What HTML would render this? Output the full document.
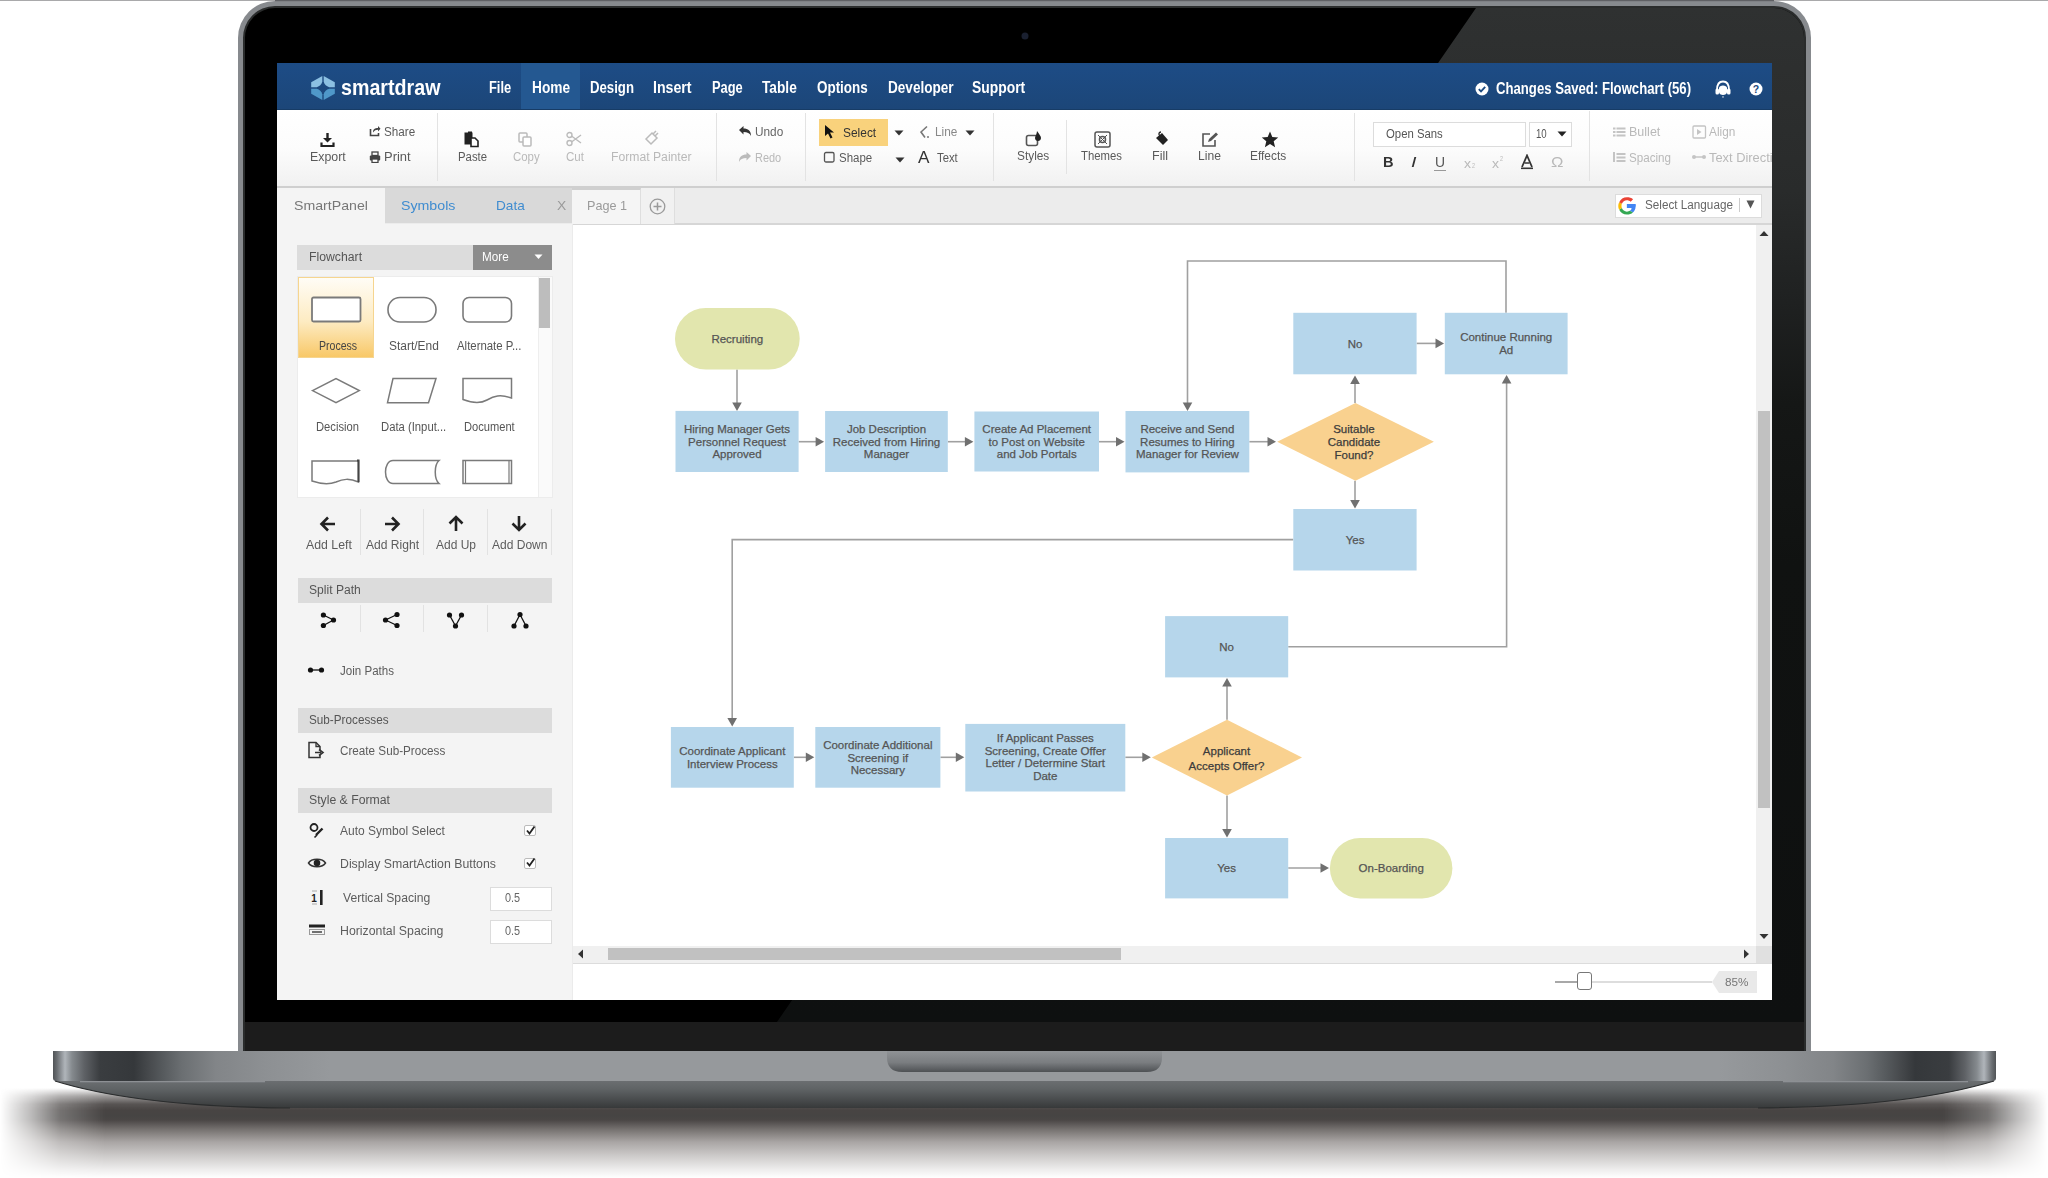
<!DOCTYPE html>
<html><head><meta charset="utf-8">
<style>
html,body{margin:0;padding:0;}
body{width:2048px;height:1178px;overflow:hidden;background:#fff;position:relative;font-family:"Liberation Sans",sans-serif;}
.a{position:absolute;}
.t{position:absolute;white-space:nowrap;transform-origin:0 50%;}
</style></head><body>
<div class="a" style="left:0px;top:0px;width:2048.00px;height:1.00px;background:#a9a9ab"></div>
<div class="a" style="left:0;top:1088px;width:2048px;height:90px;background:linear-gradient(to bottom,rgba(74,70,69,0) 0px,rgba(74,70,69,.55) 8px,rgba(74,70,69,.92) 16px,#484443 22px,#464443 28px,#4a4645 32px,#787472 42px,#a9a5a4 54px,#d0cecd 69px,#efeeee 82px,#ffffff 90px);-webkit-mask-image:linear-gradient(to right,transparent 0px,rgba(0,0,0,.35) 30px,rgba(0,0,0,.75) 60px,#000 105px,#000 1943px,rgba(0,0,0,.75) 1988px,rgba(0,0,0,.35) 2018px,transparent 2048px);"></div>
<svg class="a" style="left:0;top:0" width="2048" height="1178" viewBox="0 0 2048 1178">
  <defs>
    <linearGradient id="glare" x1="0" y1="0" x2="0" y2="1">
      <stop offset="0" stop-color="#2f3131"/>
      <stop offset="0.18" stop-color="#292b2b"/>
      <stop offset="0.29" stop-color="#1f2121"/>
      <stop offset="0.39" stop-color="#151716"/>
      <stop offset="0.55" stop-color="#101211"/>
      <stop offset="1" stop-color="#0e1010"/>
    </linearGradient>
    <linearGradient id="bandL" x1="53" y1="0" x2="1996" y2="0" gradientUnits="userSpaceOnUse">
      <stop offset="0.00000" stop-color="#505356"/>
      <stop offset="0.00206" stop-color="#6a6e72"/>
      <stop offset="0.00618" stop-color="#b0b5ba"/>
      <stop offset="0.00978" stop-color="#858a8e"/>
      <stop offset="0.01595" stop-color="#5f6266"/>
      <stop offset="0.02419" stop-color="#3a3d40"/>
      <stop offset="0.04169" stop-color="#35383b"/>
      <stop offset="0.04992" stop-color="#484b4e"/>
      <stop offset="0.05610" stop-color="#55595c"/>
      <stop offset="0.06639" stop-color="#6b6f72"/>
      <stop offset="0.08389" stop-color="#828588"/>
      <stop offset="0.10911" stop-color="#8d9093"/>
      <stop offset="0.14256" stop-color="#96999c"/>
      <stop offset="0.85744" stop-color="#96999c"/>
      <stop offset="0.89089" stop-color="#8d9093"/>
      <stop offset="0.91611" stop-color="#828588"/>
      <stop offset="0.93361" stop-color="#6b6f72"/>
      <stop offset="0.94390" stop-color="#55595c"/>
      <stop offset="0.95008" stop-color="#484b4e"/>
      <stop offset="0.95831" stop-color="#35383b"/>
      <stop offset="0.97581" stop-color="#3a3d40"/>
      <stop offset="0.98405" stop-color="#5f6266"/>
      <stop offset="0.99022" stop-color="#858a8e"/>
      <stop offset="0.99382" stop-color="#b0b5ba"/>
      <stop offset="0.99794" stop-color="#6a6e72"/>
      <stop offset="1.00000" stop-color="#505356"/>
    </linearGradient>
    <linearGradient id="band2" x1="0" y1="1081" x2="0" y2="1108" gradientUnits="userSpaceOnUse">
      <stop offset="0" stop-color="#6b6e71"/>
      <stop offset="0.3" stop-color="#5f6365"/>
      <stop offset="1" stop-color="#37393a"/>
    </linearGradient>
    <linearGradient id="notch" x1="0" y1="0" x2="0" y2="1">
      <stop offset="0" stop-color="#909396"/>
      <stop offset="0.55" stop-color="#7a7d80"/>
      <stop offset="1" stop-color="#4e5154"/>
    </linearGradient>
  </defs>
  <path d="M238,1051 L238,38 A37,37 0 0 1 275,1 L1774,1 A37,37 0 0 1 1811,38 L1811,1051 Z" fill="#878a8e"/>
  <rect x="275" y="0" width="1499" height="1.2" fill="#5f6064"/>
  <path d="M243,1051 L243,39 A32,32 0 0 1 275,6 L1774,6 A32,32 0 0 1 1806,39 L1806,1051 Z" fill="#2a2c2c"/>
  <path d="M245,1051 L245,39 A30,30 0 0 1 275,8 L1774,8 A30,30 0 0 1 1804,39 L1804,1051 Z" fill="#000"/>
  <path d="M1476,8 L1774,8 A30,30 0 0 1 1804,39 L1804,1022 L777,1022 Z" fill="url(#glare)"/>
  <rect x="245" y="1022" width="1559" height="29" fill="#1c1c1c"/>
  <path d="M53,1051 L1996,1051 L1996,1078 Q1996,1081 1993,1081 L56,1081 Q53,1081 53,1078 Z" fill="url(#bandL)"/>
  <path d="M55,1081 L1994,1081 C1948,1095 1878,1107 1758,1108 L290,1108 C170,1107 100,1095 55,1081 Z" fill="url(#band2)"/>
  <path d="M55,1081 C100,1095 170,1107 290,1108" stroke="#2a2c2d" stroke-width="1.2" fill="none"/>
  <path d="M1994,1081 C1948,1095 1878,1107 1758,1108" stroke="#2a2c2d" stroke-width="1.2" fill="none"/>
  <rect x="80" y="1081" width="185" height="1.3" fill="#8d9094"/>
  <rect x="1783" y="1081" width="185" height="1.3" fill="#8d9094"/>
  <path d="M887,1051 L1162,1051 L1162,1057 Q1162,1072 1147,1072 L902,1072 Q887,1072 887,1057 Z" fill="url(#notch)"/>
  <circle cx="1025" cy="36" r="3.5" fill="#1a2030"/>
</svg>
<div class="a" style="left:277px;top:63px;width:1495.00px;height:937.00px;background:#fff"></div>
<div class="a" style="left:277px;top:63px;width:1495.00px;height:46.50px;background:linear-gradient(#1d4c86,#1c4678);"></div>
<div class="a" style="left:277px;top:108.5px;width:1495.00px;height:1.00px;background:#173c66"></div>
<div class="a" style="left:521px;top:63px;width:59.00px;height:45.50px;background:#245891"></div>
<svg class="a" style="left:310px;top:75px" width="26" height="26" viewBox="0 0 26 26">
<path d="M12.3,1 L1.2,7.3 L1.2,12.2 L6.8,12.2 Q11,11 12.3,6.8 Z" fill="#8cc0e2"/>
<path d="M13.7,1 L24.8,7.3 L24.8,12.2 L19.2,12.2 Q15,11 13.7,6.8 Z" fill="#8cc0e2"/>
<path d="M12.3,25 L1.2,18.7 L1.2,13.8 L6.8,13.8 Q11,15 12.3,19.2 Z" fill="#4f98c9"/>
<path d="M13.7,25 L24.8,18.7 L24.8,13.8 L19.2,13.8 Q15,15 13.7,19.2 Z" fill="#4f98c9"/>
</svg>
<div class="t" style="left:340.50px;top:74.50px;font-size:22px;line-height:26px;color:#ffffff;font-weight:bold;transform:scaleX(0.8938);">smartdraw</div>
<div class="t" style="left:489.00px;top:78.00px;font-size:16px;line-height:20px;color:#ffffff;font-weight:bold;transform:scaleX(0.8043);">File</div>
<div class="t" style="left:531.50px;top:78.00px;font-size:16px;line-height:20px;color:#ffffff;font-weight:bold;transform:scaleX(0.8566);">Home</div>
<div class="t" style="left:589.60px;top:78.00px;font-size:16px;line-height:20px;color:#ffffff;font-weight:bold;transform:scaleX(0.8246);">Design</div>
<div class="t" style="left:653.00px;top:78.00px;font-size:16px;line-height:20px;color:#ffffff;font-weight:bold;transform:scaleX(0.8853);">Insert</div>
<div class="t" style="left:711.60px;top:78.00px;font-size:16px;line-height:20px;color:#ffffff;font-weight:bold;transform:scaleX(0.8028);">Page</div>
<div class="t" style="left:762.30px;top:78.00px;font-size:16px;line-height:20px;color:#ffffff;font-weight:bold;transform:scaleX(0.8563);">Table</div>
<div class="t" style="left:817.00px;top:78.00px;font-size:16px;line-height:20px;color:#ffffff;font-weight:bold;transform:scaleX(0.8394);">Options</div>
<div class="t" style="left:887.60px;top:78.00px;font-size:16px;line-height:20px;color:#ffffff;font-weight:bold;transform:scaleX(0.8480);">Developer</div>
<div class="t" style="left:972.20px;top:78.00px;font-size:16px;line-height:20px;color:#ffffff;font-weight:bold;transform:scaleX(0.8670);">Support</div>
<svg class="a" style="left:1475px;top:82px" width="14" height="14" viewBox="0 0 14 14"><circle cx="7" cy="7" r="6.5" fill="#fff"/><path d="M3.8,7.2 L6,9.4 L10.2,4.8" stroke="#1c4a80" stroke-width="1.8" fill="none"/></svg>
<div class="t" style="left:1496.00px;top:79.00px;font-size:16px;line-height:20px;color:#ffffff;font-weight:bold;transform:scaleX(0.8215);">Changes Saved: Flowchart (56)</div>
<svg class="a" style="left:1713px;top:79px" width="20" height="20" viewBox="0 0 20 20"><path d="M4,11 C4,5 6.5,2.5 10,2.5 C13.5,2.5 16,5 16,11" stroke="#fff" stroke-width="1.8" fill="none"/><path d="M6,9 C6,5.5 14,5.5 14,9 L14,13 C14,17 6,17 6,13 Z" fill="#fff"/><rect x="2.5" y="9.5" width="3.5" height="6" rx="1.5" fill="#fff"/><rect x="14" y="9.5" width="3.5" height="6" rx="1.5" fill="#fff"/><path d="M9,17.5 L10,19 L11,17.5 Z" fill="#fff"/></svg>
<svg class="a" style="left:1749px;top:82px" width="14" height="14" viewBox="0 0 14 14"><circle cx="7" cy="7" r="6.5" fill="#fff"/><text x="7" y="10.8" font-family="Liberation Sans" font-weight="bold" font-size="10.5" fill="#1c4a80" text-anchor="middle">?</text></svg>
<div class="a" style="left:277px;top:109.5px;width:1495.00px;height:76.50px;background:linear-gradient(#ffffff 0%,#fcfcfc 50%,#f1f1f1 100%);"></div>
<div class="a" style="left:277px;top:186px;width:1495.00px;height:2.00px;background:#cfcfcf"></div>
<div class="a" style="left:437px;top:113px;width:1.00px;height:68.00px;background:#e3e3e3"></div>
<div class="a" style="left:715.8px;top:113px;width:1.00px;height:68.00px;background:#e3e3e3"></div>
<div class="a" style="left:804.6px;top:113px;width:1.00px;height:68.00px;background:#e3e3e3"></div>
<div class="a" style="left:993px;top:113px;width:1.00px;height:68.00px;background:#e3e3e3"></div>
<div class="a" style="left:1065.8px;top:120px;width:1.00px;height:54.00px;background:#e3e3e3"></div>
<div class="a" style="left:1354.2px;top:113px;width:1.00px;height:68.00px;background:#e3e3e3"></div>
<div class="a" style="left:1589px;top:111px;width:1.00px;height:70.00px;background:#e3e3e3"></div>
<svg class="a" style="left:320px;top:132px" width="15" height="15" viewBox="0 0 15 15"><path d="M7.5,1 L7.5,9" stroke="#222" stroke-width="2.4"/><path d="M3,6 L7.5,10.5 L12,6 Z" fill="#222"/><path d="M1.5,10.5 L1.5,14 L13.5,14 L13.5,10.5" stroke="#222" stroke-width="2.2" fill="none"/></svg>
<div class="t" style="left:310.00px;top:148.70px;font-size:12.5px;line-height:16px;color:#5a5a5a;font-weight:normal;transform:scaleX(0.9882);">Export</div>
<svg class="a" style="left:369px;top:125px" width="12" height="12" viewBox="0 0 12 12"><path d="M1.5,4 L1.5,10.5 L9.5,10.5 L9.5,8" stroke="#444" stroke-width="1.6" fill="none"/><path d="M4,7.5 C4,4 6,3 9,3 L9,1 L11.5,3.8 L9,6.5 L9,4.8 C7,4.8 5.5,5.5 4,7.5 Z" fill="#444"/></svg>
<div class="t" style="left:384.40px;top:124.00px;font-size:12.5px;line-height:16px;color:#5a5a5a;font-weight:normal;transform:scaleX(0.9348);">Share</div>
<svg class="a" style="left:369px;top:151px" width="12" height="12" viewBox="0 0 12 12"><rect x="3" y="1" width="6" height="3.5" fill="none" stroke="#444" stroke-width="1.3"/><rect x="0.8" y="4.5" width="10.4" height="5" rx="1" fill="#444"/><rect x="3" y="8" width="6" height="3.5" fill="#fff" stroke="#444" stroke-width="1.3"/></svg>
<div class="t" style="left:384.00px;top:149.00px;font-size:12.5px;line-height:16px;color:#5a5a5a;font-weight:normal;transform:scaleX(1.0355);">Print</div>
<svg class="a" style="left:463px;top:131px" width="17" height="17" viewBox="0 0 17 17"><rect x="1.5" y="1.5" width="8" height="12" fill="#222"/><rect x="5" y="0.5" width="4" height="2.5" fill="#222"/><path d="M8,7 L12,7 L15,10 L15,15.5 L8,15.5 Z" fill="#fff" stroke="#222" stroke-width="1.6"/></svg>
<div class="t" style="left:457.50px;top:148.70px;font-size:12.5px;line-height:16px;color:#5a5a5a;font-weight:normal;transform:scaleX(0.9080);">Paste</div>
<svg class="a" style="left:517px;top:131px" width="17" height="17" viewBox="0 0 17 17"><rect x="2" y="2" width="8" height="9" rx="1" fill="none" stroke="#bbb" stroke-width="1.5"/><rect x="6" y="6" width="8" height="9" rx="1" fill="#fff" stroke="#bbb" stroke-width="1.5"/></svg>
<div class="t" style="left:513.30px;top:148.70px;font-size:12.5px;line-height:16px;color:#b9b9b9;font-weight:normal;transform:scaleX(0.9148);">Copy</div>
<svg class="a" style="left:566px;top:131px" width="17" height="17" viewBox="0 0 17 17"><circle cx="3.5" cy="4" r="2.5" fill="none" stroke="#bbb" stroke-width="1.4"/><circle cx="3.5" cy="12" r="2.5" fill="none" stroke="#bbb" stroke-width="1.4"/><path d="M5.5,5 L15,12 M5.5,11 L15,4" stroke="#bbb" stroke-width="1.4"/></svg>
<div class="t" style="left:566.00px;top:148.70px;font-size:12.5px;line-height:16px;color:#b9b9b9;font-weight:normal;transform:scaleX(0.9260);">Cut</div>
<svg class="a" style="left:643px;top:130px" width="17" height="17" viewBox="0 0 17 17"><path d="M3,9 L9,3 L14,8 L8,14 Z" fill="none" stroke="#bbb" stroke-width="1.5"/><path d="M10,4 L13,1 M12,6 L15,3" stroke="#bbb" stroke-width="1.5"/></svg>
<div class="t" style="left:611.00px;top:148.70px;font-size:12.5px;line-height:16px;color:#b9b9b9;font-weight:normal;transform:scaleX(0.9748);">Format Painter</div>
<svg class="a" style="left:738px;top:125px" width="14" height="13" viewBox="0 0 14 13"><path d="M1,5 L5.5,1 L5.5,3.5 C10,3.5 13,5.5 13,11 C11.5,8 9.5,7 5.5,7 L5.5,9.5 Z" fill="#333"/></svg>
<div class="t" style="left:754.80px;top:124.20px;font-size:12.5px;line-height:16px;color:#666;font-weight:normal;transform:scaleX(0.9439);">Undo</div>
<svg class="a" style="left:738px;top:151px" width="14" height="13" viewBox="0 0 14 13"><path d="M13,5 L8.5,1 L8.5,3.5 C4,3.5 1,5.5 1,11 C2.5,8 4.5,7 8.5,7 L8.5,9.5 Z" fill="#bbb"/></svg>
<div class="t" style="left:754.80px;top:150.00px;font-size:12.5px;line-height:16px;color:#b9b9b9;font-weight:normal;transform:scaleX(0.8770);">Redo</div>
<div class="a" style="left:818.7px;top:119px;width:69.70px;height:26.50px;background:#f9d27c"></div>
<svg class="a" style="left:823px;top:124px" width="14" height="16" viewBox="0 0 14 16"><path d="M2,1 L2,12 L5,9.5 L7.5,14.5 L9.5,13.5 L7,8.5 L11,8.5 Z" fill="#111"/></svg>
<div class="t" style="left:842.80px;top:124.50px;font-size:12.5px;line-height:16px;color:#333;font-weight:normal;transform:scaleX(0.9554);">Select</div>
<svg class="a" style="left:894px;top:130px" width="10" height="6" viewBox="0 0 10 6"><path d="M0.5,0.5 L9.5,0.5 L5,5.5 Z" fill="#333"/></svg>
<svg class="a" style="left:823px;top:151px" width="13" height="13" viewBox="0 0 13 13"><rect x="1.5" y="1.5" width="9.5" height="9.5" rx="1.5" fill="none" stroke="#555" stroke-width="1.3"/></svg>
<div class="t" style="left:838.60px;top:150.00px;font-size:12.5px;line-height:16px;color:#5a5a5a;font-weight:normal;transform:scaleX(0.9190);">Shape</div>
<svg class="a" style="left:895px;top:157px" width="10" height="6" viewBox="0 0 10 6"><path d="M0.5,0.5 L9.5,0.5 L5,5.5 Z" fill="#333"/></svg>
<svg class="a" style="left:918px;top:125px" width="13" height="14" viewBox="0 0 13 14"><path d="M9,1.5 L3,7 L7,12.5" stroke="#777" stroke-width="1.6" fill="none"/><circle cx="10" cy="12" r="1" fill="#777"/></svg>
<div class="t" style="left:935.00px;top:124.20px;font-size:12.5px;line-height:16px;color:#888;font-weight:normal;transform:scaleX(0.9439);">Line</div>
<svg class="a" style="left:965px;top:130px" width="10" height="6" viewBox="0 0 10 6"><path d="M0.5,0.5 L9.5,0.5 L5,5.5 Z" fill="#333"/></svg>
<div class="t" style="left:917.50px;top:148.00px;font-size:16px;line-height:20px;color:#333;font-weight:normal;transform:scaleX(1.0728);">A</div>
<div class="t" style="left:937.40px;top:150.00px;font-size:12.5px;line-height:16px;color:#5a5a5a;font-weight:normal;transform:scaleX(0.9025);">Text</div>
<svg class="a" style="left:1025px;top:130px" width="18" height="18" viewBox="0 0 18 18"><rect x="1.5" y="5.5" width="11" height="10" rx="2" fill="none" stroke="#555" stroke-width="1.6"/><path d="M12,1 C14,4 16,6 16,8 C16,10 14.5,11 13,11 C11.5,11 10,10 10,8 C10,6 12,4 12,1 Z" fill="#222"/></svg>
<div class="t" style="left:1016.70px;top:148.20px;font-size:12.5px;line-height:16px;color:#5a5a5a;font-weight:normal;transform:scaleX(0.9483);">Styles</div>
<svg class="a" style="left:1094px;top:131px" width="17" height="17" viewBox="0 0 17 17"><rect x="1" y="1" width="15" height="15" rx="2" fill="none" stroke="#555" stroke-width="1.5"/><circle cx="8.5" cy="8.5" r="3" fill="none" stroke="#555" stroke-width="1.5"/><path d="M4,4 L13,13 M13,4 L4,13" stroke="#555" stroke-width="1"/></svg>
<div class="t" style="left:1080.50px;top:148.20px;font-size:12.5px;line-height:16px;color:#5a5a5a;font-weight:normal;transform:scaleX(0.9064);">Themes</div>
<svg class="a" style="left:1153px;top:131px" width="17" height="17" viewBox="0 0 17 17"><path d="M3,7 L9,2 L15,9 L10,14 Z" fill="#222"/><path d="M8,1 C6,1 5,3 7,5" stroke="#222" stroke-width="1.3" fill="none"/></svg>
<div class="t" style="left:1152.00px;top:148.20px;font-size:12.5px;line-height:16px;color:#5a5a5a;font-weight:normal;transform:scaleX(1.0039);">Fill</div>
<svg class="a" style="left:1201px;top:131px" width="18" height="17" viewBox="0 0 18 17"><path d="M9,3 L2,3 L2,15 L14,15 L14,9" fill="none" stroke="#555" stroke-width="1.6"/><path d="M7,11 L8,8 L15,1.5 L17,3.5 L10,10 Z" fill="#555"/></svg>
<div class="t" style="left:1197.60px;top:148.20px;font-size:12.5px;line-height:16px;color:#5a5a5a;font-weight:normal;transform:scaleX(0.9693);">Line</div>
<svg class="a" style="left:1261px;top:131px" width="18" height="17" viewBox="0 0 18 17"><path d="M9,0.5 L11.3,6 L17.2,6.5 L12.7,10.3 L14.1,16.2 L9,13 L3.9,16.2 L5.3,10.3 L0.8,6.5 L6.7,6 Z" fill="#222"/></svg>
<div class="t" style="left:1250.00px;top:148.20px;font-size:12.5px;line-height:16px;color:#5a5a5a;font-weight:normal;transform:scaleX(0.9526);">Effects</div>
<div class="a" style="left:1373px;top:122px;width:153.40px;height:24.50px;background:#fff;border:1px solid #dcdcdc;box-sizing:border-box"></div>
<div class="t" style="left:1385.70px;top:126.30px;font-size:12.5px;line-height:16px;color:#555;font-weight:normal;transform:scaleX(0.9079);">Open Sans</div>
<div class="a" style="left:1528.5px;top:122px;width:43.50px;height:24.50px;background:#fff;border:1px solid #dcdcdc;box-sizing:border-box"></div>
<div class="t" style="left:1535.80px;top:126.00px;font-size:12px;line-height:16px;color:#555;font-weight:normal;transform:scaleX(0.8033);">10</div>
<svg class="a" style="left:1557px;top:131px" width="10" height="6" viewBox="0 0 10 6"><path d="M0.5,0.5 L9.5,0.5 L5,5.5 Z" fill="#222"/></svg>
<div class="t" style="left:1382.50px;top:153.20px;font-size:15px;line-height:18px;color:#333;font-weight:bold;transform:scaleX(0.9722);">B</div>
<div class="t" style="left:1410.50px;top:153.20px;font-size:15px;line-height:18px;color:#333;font-weight:normal;transform:scaleX(1.3095);font-style:italic;">I</div>
<div class="t" style="left:1435.00px;top:153.00px;font-size:14px;line-height:18px;color:#555;font-weight:normal;transform:scaleX(0.9921);">U</div>
<div class="a" style="left:1434px;top:170px;width:12.00px;height:1.00px;background:#999"></div>
<div class="t" style="left:1464.00px;top:156.00px;font-size:12px;line-height:16px;color:#b9b9b9;font-weight:normal;transform:scaleX(1.1667);">x</div>
<div class="t" style="left:1472.00px;top:161.00px;font-size:7px;line-height:10px;color:#b9b9b9;font-weight:normal;transform:scaleX(0.7722);">2</div>
<div class="t" style="left:1492.00px;top:156.00px;font-size:12px;line-height:16px;color:#b9b9b9;font-weight:normal;transform:scaleX(1.1667);">x</div>
<div class="t" style="left:1500.00px;top:154.00px;font-size:7px;line-height:10px;color:#b9b9b9;font-weight:normal;transform:scaleX(0.7722);">2</div>
<svg class="a" style="left:1520px;top:154px" width="14" height="16" viewBox="0 0 14 16"><path d="M2,13 L7,1.5 L12,13" stroke="#333" stroke-width="1.8" fill="none"/><path d="M4.5,9 L9.5,9" stroke="#333" stroke-width="1.5"/><rect x="1" y="13.5" width="12" height="1.6" fill="#333"/></svg>
<div class="t" style="left:1550.50px;top:153.00px;font-size:14px;line-height:18px;color:#b9b9b9;font-weight:normal;transform:scaleX(1.1905);">Ω</div>
<svg class="a" style="left:1613px;top:127px" width="13" height="11" viewBox="0 0 13 11"><g fill="#c4c4c4"><rect x="0" y="0.5" width="2.5" height="2"/><rect x="3.5" y="0.5" width="9" height="2"/><rect x="0" y="4" width="2.5" height="2"/><rect x="3.5" y="4" width="9" height="2"/><rect x="0" y="7.5" width="2.5" height="2"/><rect x="3.5" y="7.5" width="9" height="2"/></g></svg>
<div class="t" style="left:1629.00px;top:124.40px;font-size:12.5px;line-height:16px;color:#b9b9b9;font-weight:normal;transform:scaleX(1.0016);">Bullet</div>
<svg class="a" style="left:1613px;top:152px" width="13" height="11" viewBox="0 0 13 11"><g fill="#c4c4c4"><rect x="0" y="0" width="2" height="10"/><rect x="3.5" y="1" width="9" height="2"/><rect x="3.5" y="4.5" width="9" height="2"/><rect x="3.5" y="8" width="9" height="2"/></g></svg>
<div class="t" style="left:1629.00px;top:149.60px;font-size:12.5px;line-height:16px;color:#b9b9b9;font-weight:normal;transform:scaleX(0.9295);">Spacing</div>
<svg class="a" style="left:1692px;top:125px" width="15" height="14" viewBox="0 0 15 14"><rect x="1" y="1" width="12.5" height="12" rx="1" fill="none" stroke="#c4c4c4" stroke-width="1.3"/><path d="M5,4 L9.5,7 L5,10 Z" fill="#c4c4c4"/></svg>
<div class="t" style="left:1709.00px;top:124.40px;font-size:12.5px;line-height:16px;color:#b9b9b9;font-weight:normal;transform:scaleX(0.9456);">Align</div>
<svg class="a" style="left:1692px;top:153px" width="14" height="8" viewBox="0 0 14 8"><path d="M1,4 L13,4" stroke="#c4c4c4" stroke-width="1.5"/><circle cx="2" cy="4" r="2" fill="#c4c4c4"/><circle cx="12" cy="4" r="2" fill="#c4c4c4"/></svg>
<div class="a" style="left:1700px;top:140px;width:72px;height:30px;overflow:hidden">
<div class="t" style="left:9.00px;top:9.60px;font-size:12.5px;line-height:16px;color:#b9b9b9;font-weight:normal;transform:scaleX(1.0297);">Text Direction</div>
</div>
<div class="a" style="left:277px;top:188px;width:1495.00px;height:36.00px;background:#ececec"></div>
<div class="a" style="left:572px;top:223px;width:1200.00px;height:2.00px;background:#d6d6d6"></div>
<div class="a" style="left:277px;top:188px;width:107.70px;height:36.00px;background:#f4f4f4"></div>
<div class="a" style="left:384.7px;top:188px;width:187.60px;height:35.00px;background:#d9d9d9"></div>
<div class="t" style="left:294.40px;top:196.60px;font-size:13.5px;line-height:18px;color:#777;font-weight:normal;transform:scaleX(1.0477);">SmartPanel</div>
<div class="t" style="left:401.00px;top:196.60px;font-size:13.5px;line-height:18px;color:#3f8cd0;font-weight:normal;transform:scaleX(1.0508);">Symbols</div>
<div class="t" style="left:496.40px;top:196.60px;font-size:13.5px;line-height:18px;color:#3f8cd0;font-weight:normal;transform:scaleX(1.0087);">Data</div>
<div class="t" style="left:557.00px;top:196.60px;font-size:13.5px;line-height:18px;color:#9a9a9a;font-weight:normal;transform:scaleX(1.0248);">X</div>
<div class="a" style="left:572.3px;top:188px;width:68.70px;height:36.00px;background:#f5f5f5;border-top:2px solid #cfcfcf;border-right:1px solid #dedede;box-sizing:border-box"></div>
<div class="t" style="left:586.70px;top:196.60px;font-size:13.5px;line-height:18px;color:#9a9a9a;font-weight:normal;transform:scaleX(0.9347);">Page 1</div>
<div class="a" style="left:641px;top:188px;width:34.00px;height:36.00px;background:#f1f1f1;border-right:1px solid #dedede;box-sizing:border-box"></div>
<svg class="a" style="left:649px;top:198px" width="17" height="17" viewBox="0 0 17 17"><circle cx="8.5" cy="8.5" r="7.3" fill="none" stroke="#9a9a9a" stroke-width="1.3"/><path d="M8.5,4.5 L8.5,12.5 M4.5,8.5 L12.5,8.5" stroke="#9a9a9a" stroke-width="1.5"/></svg>
<div class="a" style="left:1615.3px;top:194px;width:146.50px;height:24.20px;background:#fff;border:1px solid #dcdcdc;box-sizing:border-box"></div>
<svg class="a" style="left:1618.3px;top:197.3px" width="18" height="18" viewBox="2.3 2.3 13.5 13.5"><path d="M15.5,9.2 C15.5,8.6 15.45,8.1 15.35,7.6 L9,7.6 L9,10.5 L12.7,10.5 C12.5,11.4 12,12.2 11.2,12.7" stroke="none" fill="#4285f4"/>
<path d="M9,7.6 L15.35,7.6 C15.45,8.1 15.5,8.6 15.5,9.2 C15.5,11.2 14.8,12.8 13.5,13.9 L11.2,12.7 C12,12.2 12.5,11.4 12.7,10.5 L9,10.5 Z" fill="#4285f4"/>
<path d="M3.2,11.8 C4.2,14 6.4,15.5 9,15.5 C10.8,15.5 12.3,14.9 13.5,13.9 L11.2,12.7 C10.6,13.1 9.9,13.3 9,13.3 C7.2,13.3 5.8,12.2 5.2,10.6 Z" fill="#34a853"/>
<path d="M5.2,10.6 C5,10.1 4.9,9.6 4.9,9 C4.9,8.4 5,7.9 5.2,7.4 L3.2,6.2 C2.7,7.1 2.5,8 2.5,9 C2.5,10 2.7,10.9 3.2,11.8 Z" fill="#fbbc05"/>
<path d="M9,4.7 C10,4.7 11,5.1 11.8,5.8 L13.6,4 C12.4,2.9 10.8,2.5 9,2.5 C6.4,2.5 4.2,4 3.2,6.2 L5.2,7.4 C5.8,5.8 7.2,4.7 9,4.7 Z" fill="#ea4335"/></svg>
<div class="t" style="left:1644.60px;top:196.50px;font-size:12.5px;line-height:16px;color:#666;font-weight:normal;transform:scaleX(0.9370);">Select Language</div>
<div class="a" style="left:1738.5px;top:198px;width:1.00px;height:14.00px;background:#ccc"></div>
<svg class="a" style="left:1746px;top:200px" width="9" height="9" viewBox="0 0 9 9"><path d="M0.5,0.5 L8.5,0.5 L4.5,8.5 Z" fill="#555"/></svg>
<div class="a" style="left:277px;top:224px;width:295.50px;height:776.00px;background:#f4f4f4"></div>
<div class="a" style="left:572px;top:224px;width:1.00px;height:776.00px;background:#ebebeb"></div>
<div class="a" style="left:297px;top:244.6px;width:254.50px;height:25.20px;background:#dcdcdc"></div>
<div class="t" style="left:309.40px;top:249.20px;font-size:12.5px;line-height:16px;color:#555;font-weight:normal;transform:scaleX(0.9799);">Flowchart</div>
<div class="a" style="left:473px;top:244.6px;width:78.50px;height:25.20px;background:#8c8c8c"></div>
<div class="t" style="left:482.00px;top:249.20px;font-size:12.5px;line-height:16px;color:#fff;font-weight:normal;transform:scaleX(0.9368);">More</div>
<svg class="a" style="left:534px;top:254px" width="9" height="6" viewBox="0 0 9 6"><path d="M0.5,0.5 L8.5,0.5 L4.5,5 Z" fill="#fff"/></svg>
<div class="a" style="left:297.8px;top:276.8px;width:253.80px;height:220.70px;background:#fff;box-shadow:0 0 0 1px #ececec"></div>
<div class="a" style="left:538px;top:276.8px;width:13.60px;height:220.70px;background:#fafafa;border-left:1px solid #eee;box-sizing:border-box"></div>
<div class="a" style="left:538.5px;top:277.8px;width:11.50px;height:49.80px;background:#bdbdbd"></div>
<div class="a" style="left:297.8px;top:277px;width:76.20px;height:81.00px;background:linear-gradient(#fffdf7 0%,#fdebc2 55%,#f8c765 100%);box-shadow:inset 0 0 0 1px #f6d58f"></div>
<svg class="a" style="left:297px;top:290px" width="250" height="40" viewBox="0 0 250 40">
<rect x="15" y="7.5" width="48.5" height="24" rx="1.5" fill="#fff" stroke="#7a7a7a" stroke-width="1.8"/>
<rect x="91" y="7.5" width="48" height="24.5" rx="12" fill="#fff" stroke="#7a7a7a" stroke-width="1.6"/>
<rect x="166" y="7.5" width="48.5" height="24.5" rx="6" fill="#fff" stroke="#7a7a7a" stroke-width="1.6"/>
</svg>
<div class="t" style="left:319.30px;top:338.30px;font-size:12px;line-height:16px;color:#444;font-weight:normal;transform:scaleX(0.8795);">Process</div>
<div class="t" style="left:388.60px;top:338.30px;font-size:12px;line-height:16px;color:#555;font-weight:normal;transform:scaleX(0.9952);">Start/End</div>
<div class="t" style="left:457.00px;top:338.30px;font-size:12px;line-height:16px;color:#555;font-weight:normal;transform:scaleX(0.9499);">Alternate P...</div>
<svg class="a" style="left:297px;top:372px" width="250" height="36" viewBox="0 0 250 36">
<path d="M15.5,18.6 L39,6.5 L62.3,18.6 L39,30.7 Z" fill="#fff" stroke="#7a7a7a" stroke-width="1.5"/>
<path d="M96,6.5 L139,6.5 L131.5,30.7 L90.5,30.7 Z" fill="#fff" stroke="#7a7a7a" stroke-width="1.5"/>
<path d="M166,6.5 L214.5,6.5 L214.5,26 C203,22 197,24 190,28 C183,32 175,31 166,27.5 Z" fill="#fff" stroke="#7a7a7a" stroke-width="1.5"/>
</svg>
<div class="t" style="left:316.40px;top:419.40px;font-size:12px;line-height:16px;color:#555;font-weight:normal;transform:scaleX(0.9322);">Decision</div>
<div class="t" style="left:380.80px;top:419.40px;font-size:12px;line-height:16px;color:#555;font-weight:normal;transform:scaleX(0.9400);">Data (Input...</div>
<div class="t" style="left:463.80px;top:419.40px;font-size:12px;line-height:16px;color:#555;font-weight:normal;transform:scaleX(0.9265);">Document</div>
<svg class="a" style="left:297px;top:455px" width="250" height="34" viewBox="0 0 250 34">
<path d="M15,6 L61.5,6 L61.5,27 C52,23 46,24 39,27 C31,30 24,29 15,26 Z" fill="#fff" stroke="#7a7a7a" stroke-width="1.5"/>
<path d="M60,5.5 L61.5,5.5 L61.5,27" fill="none" stroke="#444" stroke-width="2"/>
<path d="M96,5.5 L142,5.5 C137,10 137,24 142,28.5 L96,28.5 C86,28.5 86,5.5 96,5.5 Z" fill="#fff" stroke="#7a7a7a" stroke-width="1.5"/>
<rect x="166" y="5.5" width="48.5" height="23" fill="#fff" stroke="#7a7a7a" stroke-width="1.5"/>
<path d="M168.5,5.5 L168.5,28.5 M212,5.5 L212,28.5" stroke="#7a7a7a" stroke-width="1.2"/>
</svg>
<svg class="a" style="left:318px;top:514px" width="22" height="20" viewBox="0 0 22 20"><path d="M17,10 L4,10 M10,3.5 L3.5,10 L10,16.5" stroke="#222" stroke-width="2.6" fill="none"/></svg>
<svg class="a" style="left:381px;top:514px" width="22" height="20" viewBox="0 0 22 20"><path d="M4,10 L17,10 M11,3.5 L17.5,10 L11,16.5" stroke="#222" stroke-width="2.6" fill="none"/></svg>
<svg class="a" style="left:446px;top:513px" width="20" height="22" viewBox="0 0 20 22"><path d="M10,18 L10,4 M3.5,10.5 L10,4 L16.5,10.5" stroke="#222" stroke-width="2.6" fill="none"/></svg>
<svg class="a" style="left:509px;top:513px" width="20" height="22" viewBox="0 0 20 22"><path d="M10,3 L10,17 M3.5,10.5 L10,17 L16.5,10.5" stroke="#222" stroke-width="2.6" fill="none"/></svg>
<div class="t" style="left:305.70px;top:537.30px;font-size:12px;line-height:16px;color:#5c5c5c;font-weight:normal;transform:scaleX(1.0246);">Add Left</div>
<div class="t" style="left:365.50px;top:537.30px;font-size:12px;line-height:16px;color:#5c5c5c;font-weight:normal;transform:scaleX(1.0061);">Add Right</div>
<div class="t" style="left:435.50px;top:537.30px;font-size:12px;line-height:16px;color:#5c5c5c;font-weight:normal;transform:scaleX(0.9995);">Add Up</div>
<div class="t" style="left:491.50px;top:537.30px;font-size:12px;line-height:16px;color:#5c5c5c;font-weight:normal;transform:scaleX(1.0022);">Add Down</div>
<div class="a" style="left:359.6px;top:509px;width:1.00px;height:46.00px;background:#e2e2e2"></div>
<div class="a" style="left:423.2px;top:509px;width:1.00px;height:46.00px;background:#e2e2e2"></div>
<div class="a" style="left:486.7px;top:509px;width:1.00px;height:46.00px;background:#e2e2e2"></div>
<div class="a" style="left:550.5px;top:509px;width:1.00px;height:46.00px;background:#e2e2e2"></div>
<div class="a" style="left:297.5px;top:577.7px;width:254.50px;height:25.20px;background:#dcdcdc"></div>
<div class="t" style="left:309.20px;top:582.20px;font-size:12.5px;line-height:16px;color:#555;font-weight:normal;transform:scaleX(0.9682);">Split Path</div>
<div class="a" style="left:359.6px;top:605px;width:1.00px;height:27.00px;background:#e2e2e2"></div>
<div class="a" style="left:423.2px;top:605px;width:1.00px;height:27.00px;background:#e2e2e2"></div>
<div class="a" style="left:486.7px;top:605px;width:1.00px;height:27.00px;background:#e2e2e2"></div>
<svg class="a" style="left:0;top:0" width="600" height="700" viewBox="0 0 600 700"><path d="M323.4,615 L333.5,620" stroke="#111" stroke-width="1.3"/><path d="M323.4,625.5 L333.5,620" stroke="#111" stroke-width="1.3"/><circle cx="323.4" cy="615" r="2.6" fill="#111"/><circle cx="323.4" cy="625.5" r="2.6" fill="#111"/><circle cx="333.5" cy="620" r="2.6" fill="#111"/></svg>
<svg class="a" style="left:0;top:0" width="600" height="700" viewBox="0 0 600 700"><path d="M385.5,620 L397,614.5" stroke="#111" stroke-width="1.3"/><path d="M385.5,620 L397,625.5" stroke="#111" stroke-width="1.3"/><circle cx="385.5" cy="620" r="2.6" fill="#111"/><circle cx="397" cy="614.5" r="2.6" fill="#111"/><circle cx="397" cy="625.5" r="2.6" fill="#111"/></svg>
<svg class="a" style="left:0;top:0" width="600" height="700" viewBox="0 0 600 700"><path d="M449.5,615 L455.5,626" stroke="#111" stroke-width="1.3"/><path d="M461.5,615 L455.5,626" stroke="#111" stroke-width="1.3"/><circle cx="449.5" cy="615" r="2.6" fill="#111"/><circle cx="461.5" cy="615" r="2.6" fill="#111"/><circle cx="455.5" cy="626" r="2.6" fill="#111"/></svg>
<svg class="a" style="left:0;top:0" width="600" height="700" viewBox="0 0 600 700"><path d="M520,614.5 L514,626" stroke="#111" stroke-width="1.3"/><path d="M520,614.5 L526,626" stroke="#111" stroke-width="1.3"/><circle cx="520" cy="614.5" r="2.6" fill="#111"/><circle cx="514" cy="626" r="2.6" fill="#111"/><circle cx="526" cy="626" r="2.6" fill="#111"/></svg>
<svg class="a" style="left:0;top:0" width="600" height="700" viewBox="0 0 600 700"><path d="M310.5,670 L321.5,670" stroke="#111" stroke-width="1.3"/><circle cx="310.5" cy="670" r="2.6" fill="#111"/><circle cx="321.5" cy="670" r="2.6" fill="#111"/></svg>
<div class="t" style="left:339.60px;top:662.50px;font-size:12.5px;line-height:16px;color:#5c5c5c;font-weight:normal;transform:scaleX(0.9251);">Join Paths</div>
<div class="a" style="left:297.5px;top:707.6px;width:254.50px;height:25.60px;background:#dcdcdc"></div>
<div class="t" style="left:309.00px;top:712.30px;font-size:12.5px;line-height:16px;color:#555;font-weight:normal;transform:scaleX(0.9381);">Sub-Processes</div>
<svg class="a" style="left:307px;top:741px" width="20" height="19" viewBox="0 0 20 19"><path d="M13,9 L13,5.5 L9,1.5 L2,1.5 L2,16.5 L13,16.5 L13,14" fill="none" stroke="#333" stroke-width="1.5"/><path d="M9,1.5 L9,5.5 L13,5.5" fill="none" stroke="#333" stroke-width="1.3"/><path d="M8,11.5 L14,11.5 M12,8.5 L16,11.5 L12,14.5" stroke="#333" stroke-width="1.6" fill="none"/></svg>
<div class="t" style="left:339.60px;top:743.00px;font-size:12.5px;line-height:16px;color:#5c5c5c;font-weight:normal;transform:scaleX(0.9355);">Create Sub-Process</div>
<div class="a" style="left:297.5px;top:787.6px;width:254.50px;height:25.30px;background:#dcdcdc"></div>
<div class="t" style="left:309.00px;top:792.30px;font-size:12.5px;line-height:16px;color:#555;font-weight:normal;transform:scaleX(0.9796);">Style &amp; Format</div>
<svg class="a" style="left:308px;top:822px" width="18" height="18" viewBox="0 0 18 18"><circle cx="6" cy="5.5" r="3.5" fill="none" stroke="#222" stroke-width="1.8"/><path d="M8,13 L14.5,6.5" stroke="#222" stroke-width="2.4"/><path d="M6.5,15.5 L9,13" stroke="#222" stroke-width="1.6"/></svg>
<div class="t" style="left:339.60px;top:822.80px;font-size:12.5px;line-height:16px;color:#5c5c5c;font-weight:normal;transform:scaleX(0.9618);">Auto Symbol Select</div>
<div class="a" style="left:524.4px;top:824.8px;width:11.80px;height:11.40px;background:#fff;border:1px solid #bbb;border-radius:2px;box-sizing:border-box"></div>
<svg class="a" style="left:524px;top:823.5px" width="13" height="13" viewBox="0 0 13 13"><path d="M3,6.5 L5.5,9.5 L10.5,2.5" stroke="#222" stroke-width="1.8" fill="none"/></svg>
<div class="a" style="left:524.4px;top:857.6999999999999px;width:11.80px;height:11.40px;background:#fff;border:1px solid #bbb;border-radius:2px;box-sizing:border-box"></div>
<svg class="a" style="left:524px;top:856.4px" width="13" height="13" viewBox="0 0 13 13"><path d="M3,6.5 L5.5,9.5 L10.5,2.5" stroke="#222" stroke-width="1.8" fill="none"/></svg>
<svg class="a" style="left:307px;top:856px" width="20" height="14" viewBox="0 0 20 14"><path d="M1.5,7 C4.5,2 15.5,2 18.5,7 C15.5,12 4.5,12 1.5,7 Z" fill="#f4f4f4" stroke="#333" stroke-width="1.5"/><circle cx="10" cy="7" r="3.3" fill="#222"/></svg>
<div class="t" style="left:339.60px;top:855.60px;font-size:12.5px;line-height:16px;color:#5c5c5c;font-weight:normal;transform:scaleX(0.9844);">Display SmartAction Buttons</div>
<svg class="a" style="left:309px;top:888px" width="16" height="19" viewBox="0 0 16 19"><rect x="11" y="2" width="2.6" height="15" fill="#222"/><text x="5" y="13.5" font-family="Liberation Sans" font-size="10" font-weight="bold" fill="#222" text-anchor="middle">1</text><path d="M3,3 L8,3 M3,16 L8,16" stroke="#aaa" stroke-width="1"/></svg>
<div class="t" style="left:342.80px;top:889.80px;font-size:12.5px;line-height:16px;color:#5c5c5c;font-weight:normal;transform:scaleX(0.9729);">Vertical Spacing</div>
<div class="a" style="left:490.2px;top:886.6px;width:61.80px;height:24.20px;background:#fff;border:1px solid #dcdcdc;box-sizing:border-box"></div>
<div class="t" style="left:505.40px;top:890.40px;font-size:12px;line-height:16px;color:#666;font-weight:normal;transform:scaleX(0.9053);">0.5</div>
<svg class="a" style="left:308px;top:923px" width="18" height="14" viewBox="0 0 18 14"><rect x="1" y="1.5" width="16" height="3" fill="#222"/><rect x="1.5" y="6.5" width="15" height="5" fill="none" stroke="#999" stroke-width="1"/><path d="M4,9 L14,9" stroke="#444" stroke-width="1.5"/></svg>
<div class="t" style="left:339.60px;top:922.70px;font-size:12.5px;line-height:16px;color:#5c5c5c;font-weight:normal;transform:scaleX(0.9853);">Horizontal Spacing</div>
<div class="a" style="left:490.2px;top:919.5px;width:61.80px;height:24.20px;background:#fff;border:1px solid #dcdcdc;box-sizing:border-box"></div>
<div class="t" style="left:505.40px;top:923.40px;font-size:12px;line-height:16px;color:#666;font-weight:normal;transform:scaleX(0.9053);">0.5</div>
<div class="a" style="left:573px;top:225px;width:1199.00px;height:775.00px;background:#fff"></div>
<div class="a" style="left:1756px;top:225px;width:16.00px;height:721.00px;background:#f0f0f0"></div>
<div class="a" style="left:1757.7px;top:410.6px;width:12.30px;height:397.80px;background:#c1c1c1"></div>
<svg class="a" style="left:1759px;top:230px" width="10" height="7" viewBox="0 0 10 7"><path d="M0.5,6 L9.5,6 L5,1 Z" fill="#333"/></svg>
<svg class="a" style="left:1759px;top:933px" width="10" height="7" viewBox="0 0 10 7"><path d="M0.5,1 L9.5,1 L5,6 Z" fill="#333"/></svg>
<div class="a" style="left:573px;top:946px;width:1183.00px;height:16.50px;background:#f0f0f0"></div>
<div class="a" style="left:608.4px;top:948px;width:512.60px;height:12.00px;background:#c1c1c1"></div>
<svg class="a" style="left:577px;top:949px" width="7" height="10" viewBox="0 0 7 10"><path d="M6,0.5 L6,9.5 L1,5 Z" fill="#333"/></svg>
<svg class="a" style="left:1743px;top:949px" width="7" height="10" viewBox="0 0 7 10"><path d="M1,0.5 L1,9.5 L6,5 Z" fill="#333"/></svg>
<div class="a" style="left:1756px;top:946px;width:16.00px;height:16.50px;background:#e0e0e0"></div>
<div class="a" style="left:573px;top:962.5px;width:1199.00px;height:1.50px;background:#dcdcdc"></div>
<div class="a" style="left:1555px;top:980.8px;width:25.00px;height:2.00px;background:#a8a8a8"></div>
<div class="a" style="left:1590px;top:980.8px;width:122.00px;height:2.00px;background:#dddddd"></div>
<div class="a" style="left:1577px;top:971.8px;width:15.40px;height:18.70px;background:#fff;border:1.6px solid #777;border-radius:3px;box-sizing:border-box"></div>
<svg class="a" style="left:1709px;top:970px" width="50" height="24" viewBox="0 0 50 24"><path d="M3,12 L10,1 L48,1 L48,23 L10,23 Z" fill="#e9e9e9"/></svg>
<div class="t" style="left:1725.00px;top:974.80px;font-size:11.5px;line-height:14px;color:#777;font-weight:normal;transform:scaleX(1.0217);">85%</div>
<svg class="a" style="left:0;top:0" width="2048" height="1178" viewBox="0 0 2048 1178"><path d="M737,369.5 L737,404" stroke="#a0a0a0" stroke-width="1.6" fill="none"/><path d="M737.0,410.9 L732.2,402.4 L741.8,402.4 Z" fill="#707070"/><path d="M798.6,441.7 L819.1,441.7" stroke="#a0a0a0" stroke-width="1.6" fill="none"/><path d="M824.1,441.7 L815.6,436.9 L815.6,446.5 Z" fill="#707070"/><path d="M947.8,441.7 L968.4,441.7" stroke="#a0a0a0" stroke-width="1.6" fill="none"/><path d="M973.4,441.7 L964.9,436.9 L964.9,446.5 Z" fill="#707070"/><path d="M1099,441.7 L1119.5,441.7" stroke="#a0a0a0" stroke-width="1.6" fill="none"/><path d="M1124.5,441.7 L1116.0,436.9 L1116.0,446.5 Z" fill="#707070"/><path d="M1249.3,441.7 L1271,441.7" stroke="#a0a0a0" stroke-width="1.6" fill="none"/><path d="M1276.0,441.7 L1267.5,436.9 L1267.5,446.5 Z" fill="#707070"/><path d="M1506,312.8 L1506,261 L1187.5,261 L1187.5,404" stroke="#a0a0a0" stroke-width="1.6" fill="none"/><path d="M1187.5,410.9 L1182.7,402.4 L1192.3,402.4 Z" fill="#707070"/><path d="M1416.6,343.4 L1438,343.4" stroke="#a0a0a0" stroke-width="1.6" fill="none"/><path d="M1444.0,343.4 L1435.5,338.6 L1435.5,348.2 Z" fill="#707070"/><path d="M1355,403 L1355,381" stroke="#a0a0a0" stroke-width="1.6" fill="none"/><path d="M1355.0,375.5 L1350.2,384.0 L1359.8,384.0 Z" fill="#707070"/><path d="M1355,480.7 L1355,502" stroke="#a0a0a0" stroke-width="1.6" fill="none"/><path d="M1355.0,508.5 L1350.2,500.0 L1359.8,500.0 Z" fill="#707070"/><path d="M1293.3,539.6 L732.2,539.6 L732.2,720" stroke="#a0a0a0" stroke-width="1.6" fill="none"/><path d="M732.2,726.5 L727.4,718.0 L737.0,718.0 Z" fill="#707070"/><path d="M793.8,757.3 L809.3,757.3" stroke="#a0a0a0" stroke-width="1.6" fill="none"/><path d="M814.3,757.3 L805.8,752.5 L805.8,762.1 Z" fill="#707070"/><path d="M940.4,757.3 L959.3,757.3" stroke="#a0a0a0" stroke-width="1.6" fill="none"/><path d="M964.3,757.3 L955.8,752.5 L955.8,762.1 Z" fill="#707070"/><path d="M1125.3,757.3 L1145.8,757.3" stroke="#a0a0a0" stroke-width="1.6" fill="none"/><path d="M1150.8,757.3 L1142.3,752.5 L1142.3,762.1 Z" fill="#707070"/><path d="M1227,719.7 L1227,684" stroke="#a0a0a0" stroke-width="1.6" fill="none"/><path d="M1227.0,678.0 L1222.2,686.5 L1231.8,686.5 Z" fill="#707070"/><path d="M1227,795.4 L1227,831" stroke="#a0a0a0" stroke-width="1.6" fill="none"/><path d="M1227.0,837.5 L1222.2,829.0 L1231.8,829.0 Z" fill="#707070"/><path d="M1288.2,646.8 L1506.6,646.8 L1506.6,381" stroke="#a0a0a0" stroke-width="1.6" fill="none"/><path d="M1506.6,375.0 L1501.8,383.5 L1511.4,383.5 Z" fill="#707070"/><path d="M1288.2,868 L1322,868" stroke="#a0a0a0" stroke-width="1.6" fill="none"/><path d="M1329.0,868.0 L1320.5,863.2 L1320.5,872.8 Z" fill="#707070"/><rect x="675" y="308" width="124.7" height="61.5" rx="30.75" fill="#e2e6ae"/><rect x="675.5" y="410.9" width="123.1" height="61.1" rx="0" fill="#b6d6eb"/><rect x="825.1" y="411" width="122.7" height="61.0" rx="0" fill="#b6d6eb"/><rect x="974.4" y="411.5" width="124.6" height="60.0" rx="0" fill="#b6d6eb"/><rect x="1125.5" y="411" width="123.8" height="61.4" rx="0" fill="#b6d6eb"/><path d="M1277.2,441.8 L1355.5,402.9 L1433.9,441.8 L1355.5,480.7 Z" fill="#f9d18f"/><rect x="1293.3" y="312.8" width="123.3" height="61.5" rx="0" fill="#b6d6eb"/><rect x="1444.8" y="312.8" width="122.8" height="61.5" rx="0" fill="#b6d6eb"/><rect x="1293.3" y="509" width="123.3" height="61.5" rx="0" fill="#b6d6eb"/><rect x="670.9" y="727" width="122.9" height="60.7" rx="0" fill="#b6d6eb"/><rect x="815.3" y="727" width="125.1" height="60.7" rx="0" fill="#b6d6eb"/><rect x="965.3" y="723.9" width="160.0" height="67.6" rx="0" fill="#b6d6eb"/><path d="M1151.8,757.5 L1227,719.7 L1302,757.5 L1227,795.4 Z" fill="#f9d18f"/><rect x="1165.1" y="616.1" width="123.1" height="61.3" rx="0" fill="#b6d6eb"/><rect x="1165.1" y="838" width="123.1" height="60.4" rx="0" fill="#b6d6eb"/><rect x="1329.9" y="838" width="122.5" height="60.4" rx="30.2" fill="#e2e6ae"/></svg>
<div class="t" style="left:711.42px;top:331.60px;font-size:11.5px;line-height:14px;color:#555;font-weight:normal;transform:scaleX(1.0000);-webkit-text-stroke:0.25px #555;">Recruiting</div>
<div class="t" style="left:683.96px;top:421.90px;font-size:11.5px;line-height:14px;color:#555;font-weight:normal;transform:scaleX(1.0000);-webkit-text-stroke:0.25px #555;">Hiring Manager Gets</div>
<div class="t" style="left:688.10px;top:434.60px;font-size:11.5px;line-height:14px;color:#555;font-weight:normal;transform:scaleX(1.0000);-webkit-text-stroke:0.25px #555;">Personnel Request</div>
<div class="t" style="left:712.39px;top:447.30px;font-size:11.5px;line-height:14px;color:#555;font-weight:normal;transform:scaleX(1.0000);-webkit-text-stroke:0.25px #555;">Approved</div>
<div class="t" style="left:846.88px;top:421.90px;font-size:11.5px;line-height:14px;color:#555;font-weight:normal;transform:scaleX(1.0000);-webkit-text-stroke:0.25px #555;">Job Description</div>
<div class="t" style="left:832.82px;top:434.60px;font-size:11.5px;line-height:14px;color:#555;font-weight:normal;transform:scaleX(1.0000);-webkit-text-stroke:0.25px #555;">Received from Hiring</div>
<div class="t" style="left:863.82px;top:447.30px;font-size:11.5px;line-height:14px;color:#555;font-weight:normal;transform:scaleX(1.0000);-webkit-text-stroke:0.25px #555;">Manager</div>
<div class="t" style="left:982.36px;top:421.90px;font-size:11.5px;line-height:14px;color:#555;font-weight:normal;transform:scaleX(1.0000);-webkit-text-stroke:0.25px #555;">Create Ad Placement</div>
<div class="t" style="left:988.54px;top:434.60px;font-size:11.5px;line-height:14px;color:#555;font-weight:normal;transform:scaleX(1.0000);-webkit-text-stroke:0.25px #555;">to Post on Website</div>
<div class="t" style="left:996.74px;top:447.30px;font-size:11.5px;line-height:14px;color:#555;font-weight:normal;transform:scaleX(1.0000);-webkit-text-stroke:0.25px #555;">and Job Portals</div>
<div class="t" style="left:1140.39px;top:421.90px;font-size:11.5px;line-height:14px;color:#555;font-weight:normal;transform:scaleX(1.0000);-webkit-text-stroke:0.25px #555;">Receive and Send</div>
<div class="t" style="left:1140.11px;top:434.60px;font-size:11.5px;line-height:14px;color:#555;font-weight:normal;transform:scaleX(1.0000);-webkit-text-stroke:0.25px #555;">Resumes to Hiring</div>
<div class="t" style="left:1135.94px;top:447.30px;font-size:11.5px;line-height:14px;color:#555;font-weight:normal;transform:scaleX(1.0000);-webkit-text-stroke:0.25px #555;">Manager for Review</div>
<div class="t" style="left:1333.21px;top:422.10px;font-size:11.5px;line-height:14px;color:#3c3c3c;font-weight:normal;transform:scaleX(1.0000);-webkit-text-stroke:0.25px #3c3c3c;">Suitable</div>
<div class="t" style="left:1327.78px;top:434.80px;font-size:11.5px;line-height:14px;color:#3c3c3c;font-weight:normal;transform:scaleX(1.0000);-webkit-text-stroke:0.25px #3c3c3c;">Candidate</div>
<div class="t" style="left:1334.51px;top:447.50px;font-size:11.5px;line-height:14px;color:#3c3c3c;font-weight:normal;transform:scaleX(1.0000);-webkit-text-stroke:0.25px #3c3c3c;">Found?</div>
<div class="t" style="left:1347.64px;top:336.60px;font-size:11.5px;line-height:14px;color:#555;font-weight:normal;transform:scaleX(1.0000);-webkit-text-stroke:0.25px #555;">No</div>
<div class="t" style="left:1460.17px;top:330.25px;font-size:11.5px;line-height:14px;color:#555;font-weight:normal;transform:scaleX(1.0000);-webkit-text-stroke:0.25px #555;">Continue Running</div>
<div class="t" style="left:1499.16px;top:342.95px;font-size:11.5px;line-height:14px;color:#555;font-weight:normal;transform:scaleX(1.0000);-webkit-text-stroke:0.25px #555;">Ad</div>
<div class="t" style="left:1345.63px;top:533.00px;font-size:11.5px;line-height:14px;color:#555;font-weight:normal;transform:scaleX(1.0000);-webkit-text-stroke:0.25px #555;">Yes</div>
<div class="t" style="left:679.23px;top:744.45px;font-size:11.5px;line-height:14px;color:#555;font-weight:normal;transform:scaleX(1.0000);-webkit-text-stroke:0.25px #555;">Coordinate Applicant</div>
<div class="t" style="left:686.93px;top:757.15px;font-size:11.5px;line-height:14px;color:#555;font-weight:normal;transform:scaleX(1.0000);-webkit-text-stroke:0.25px #555;">Interview Process</div>
<div class="t" style="left:823.15px;top:737.90px;font-size:11.5px;line-height:14px;color:#555;font-weight:normal;transform:scaleX(1.0000);-webkit-text-stroke:0.25px #555;">Coordinate Additional</div>
<div class="t" style="left:847.41px;top:750.60px;font-size:11.5px;line-height:14px;color:#555;font-weight:normal;transform:scaleX(1.0000);-webkit-text-stroke:0.25px #555;">Screening if</div>
<div class="t" style="left:850.63px;top:763.30px;font-size:11.5px;line-height:14px;color:#555;font-weight:normal;transform:scaleX(1.0000);-webkit-text-stroke:0.25px #555;">Necessary</div>
<div class="t" style="left:996.71px;top:730.95px;font-size:11.5px;line-height:14px;color:#555;font-weight:normal;transform:scaleX(1.0000);-webkit-text-stroke:0.25px #555;">If Applicant Passes</div>
<div class="t" style="left:984.67px;top:743.65px;font-size:11.5px;line-height:14px;color:#555;font-weight:normal;transform:scaleX(1.0000);-webkit-text-stroke:0.25px #555;">Screening, Create Offer</div>
<div class="t" style="left:985.53px;top:756.35px;font-size:11.5px;line-height:14px;color:#555;font-weight:normal;transform:scaleX(1.0000);-webkit-text-stroke:0.25px #555;">Letter / Determine Start</div>
<div class="t" style="left:1033.17px;top:769.05px;font-size:11.5px;line-height:14px;color:#555;font-weight:normal;transform:scaleX(1.0000);-webkit-text-stroke:0.25px #555;">Date</div>
<div class="t" style="left:1202.84px;top:743.50px;font-size:11.5px;line-height:14px;color:#3c3c3c;font-weight:normal;transform:scaleX(1.0000);-webkit-text-stroke:0.25px #3c3c3c;">Applicant</div>
<div class="t" style="left:1188.58px;top:758.50px;font-size:11.5px;line-height:14px;color:#3c3c3c;font-weight:normal;transform:scaleX(1.0000);-webkit-text-stroke:0.25px #3c3c3c;">Accepts Offer?</div>
<div class="t" style="left:1219.24px;top:640.00px;font-size:11.5px;line-height:14px;color:#555;font-weight:normal;transform:scaleX(1.0000);-webkit-text-stroke:0.25px #555;">No</div>
<div class="t" style="left:1217.23px;top:861.20px;font-size:11.5px;line-height:14px;color:#555;font-weight:normal;transform:scaleX(1.0000);-webkit-text-stroke:0.25px #555;">Yes</div>
<div class="t" style="left:1358.60px;top:861.20px;font-size:11.5px;line-height:14px;color:#555;font-weight:normal;transform:scaleX(1.0000);-webkit-text-stroke:0.25px #555;">On-Boarding</div>
</body></html>
